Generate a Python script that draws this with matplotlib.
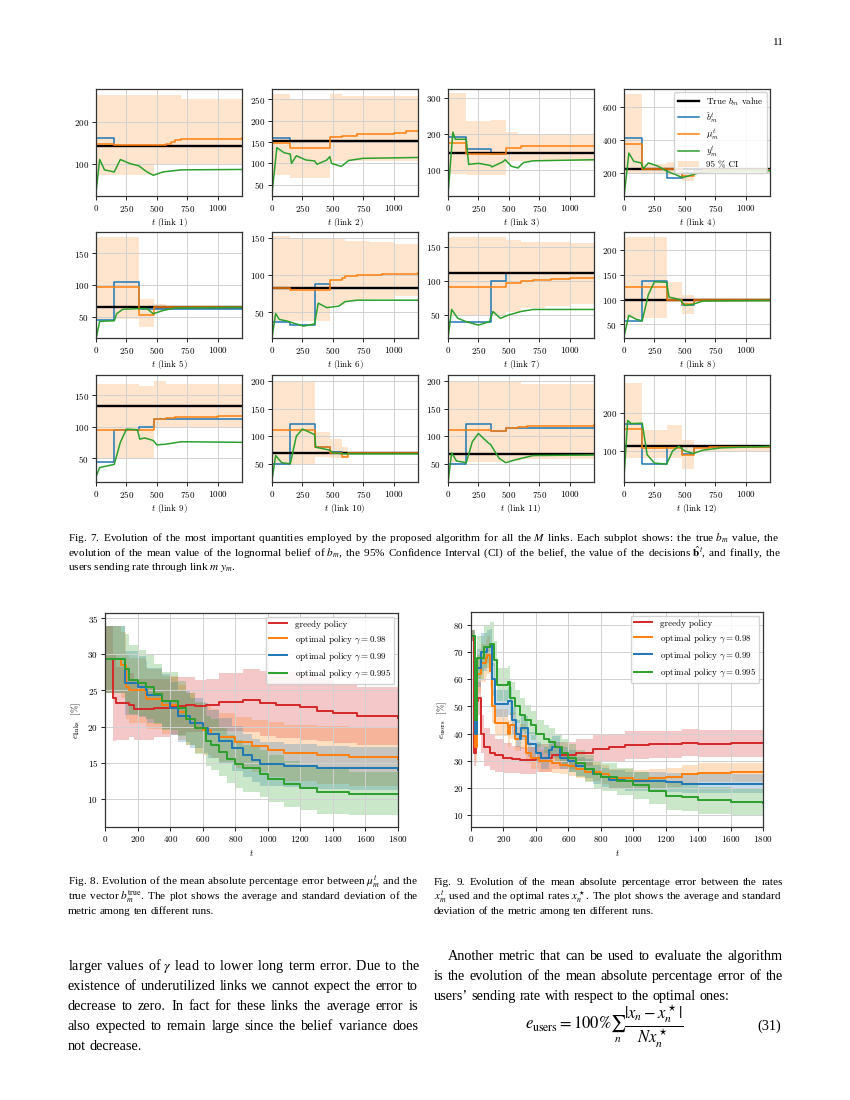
import re
import numpy as np
import matplotlib.pyplot as plt
from matplotlib.lines import Line2D
from matplotlib.patches import Patch

plt.rcParams.update({
    'font.family': 'serif',
    'font.serif': ['cmr10'],
    'mathtext.fontset': 'cm',
    'axes.formatter.use_mathtext': True,
    'axes.unicode_minus': False,
    'font.size': 6.5,
})

# ---------------- data: 12 links (Fig. 7) ----------------
true_b = [142, 152, 147, 220, 65, 82, 112, 99, 133, 70, 68, 112]

bhat_t = [[0, 150, 1200], [0, 150, 1200], [0, 150, 350, 475, 1200],
          [0, 150, 350, 475, 575, 1200], [0, 150, 350, 1200], [0, 150, 350, 475, 1200],
          [0, 350, 475, 1200], [0, 150, 350, 475, 575, 1200], [0, 150, 350, 475, 1200],
          [0, 150, 350, 475, 575, 1200], [0, 150, 350, 475, 1200], [0, 150, 350, 475, 575, 1200]]
bhat_v = [[162, 143, 143], [160, 152, 152], [190, 157, 145, 147, 147],
          [410, 220, 170, 200, 215, 215], [45, 105, 63, 63], [37, 33, 88, 82, 82],
          [40, 100, 112, 112], [57, 137, 100, 88, 99, 99], [43, 95, 100, 112, 112],
          [50, 122, 80, 72, 70, 70], [50, 122, 110, 115, 115], [170, 65, 113, 93, 110, 110]]

mu_t = [[0, 150, 575, 620, 650, 700, 1200], [0, 150, 475, 575, 700, 850, 1000, 1100, 1200],
        [0, 150, 475, 600, 1200], [0, 150, 475, 575, 650, 1200], [0, 350, 475, 1200],
        [0, 150, 475, 575, 600, 700, 900, 1200], [0, 475, 600, 700, 850, 1000, 1200],
        [0, 350, 475, 575, 1200], [0, 475, 575, 650, 800, 1000, 1200],
        [0, 350, 475, 575, 625, 1200], [0, 350, 475, 575, 650, 800, 1200],
        [0, 150, 475, 575, 700, 1200]]
mu_v = [[148, 145, 148, 152, 158, 160, 162], [148, 137, 163, 165, 168, 170, 172, 175, 175],
        [175, 145, 162, 165, 165], [375, 220, 180, 205, 215, 215], [97, 53, 65, 65],
        [82, 80, 93, 96, 98, 100, 102, 103], [91, 97, 100, 102, 103, 104, 105],
        [125, 100, 90, 100, 100], [94, 112, 114, 115, 116, 117, 117],
        [112, 80, 70, 62, 70, 70], [112, 110, 115, 117, 118, 119, 120],
        [157, 108, 88, 108, 110, 112]]

y_t = [[0, 30, 70, 150, 200, 280, 350, 420, 470, 550, 700, 1200],
       [0, 40, 100, 150, 160, 200, 280, 350, 370, 450, 475, 490, 570, 630, 750, 1200],
       [0, 40, 60, 150, 170, 250, 350, 360, 450, 470, 520, 575, 620, 700, 1200],
       [0, 40, 80, 140, 160, 200, 280, 350, 420, 480, 550, 620, 750, 1200],
       [0, 30, 150, 170, 220, 350, 420, 470, 550, 650, 1200],
       [0, 30, 60, 120, 200, 260, 350, 380, 450, 550, 600, 700, 1200],
       [0, 30, 80, 150, 250, 340, 370, 430, 500, 600, 700, 1200],
       [0, 40, 100, 150, 200, 250, 350, 370, 460, 500, 560, 650, 1200],
       [0, 30, 150, 200, 250, 340, 360, 400, 470, 500, 570, 700, 1200],
       [0, 30, 80, 150, 200, 250, 350, 360, 470, 500, 600, 1200],
       [0, 30, 70, 150, 200, 250, 330, 350, 420, 475, 550, 700, 1200],
       [0, 30, 60, 150, 190, 250, 350, 400, 450, 500, 570, 650, 800, 1200]]
y_v = [[30, 110, 85, 80, 110, 100, 95, 80, 72, 80, 85, 86],
       [30, 137, 125, 122, 100, 118, 108, 106, 98, 108, 116, 100, 93, 107, 112, 114],
       [30, 205, 185, 185, 115, 118, 112, 108, 122, 128, 110, 105, 120, 125, 128],
       [50, 320, 270, 260, 225, 260, 240, 210, 190, 170, 185, 200, 210, 212],
       [15, 43, 44, 55, 62, 63, 63, 55, 60, 64, 65],
       [15, 48, 40, 38, 34, 31, 34, 62, 56, 58, 64, 66, 66],
       [15, 58, 45, 40, 35, 40, 55, 45, 50, 55, 58, 58],
       [25, 68, 60, 57, 110, 136, 135, 105, 100, 88, 90, 97, 98],
       [20, 35, 40, 75, 96, 95, 80, 82, 78, 71, 72, 76, 75],
       [20, 65, 52, 50, 100, 113, 103, 80, 75, 70, 68, 68],
       [15, 70, 55, 52, 90, 105, 88, 85, 60, 52, 57, 65, 66],
       [30, 180, 172, 173, 90, 68, 65, 100, 112, 100, 93, 102, 108, 112]]

ci_t = [[0, 475, 700, 1200], [0, 150, 475, 575, 1200], [0, 150, 350, 475, 575, 1200],
        [0, 150, 350, 475, 575, 1200], [0, 350, 475, 575, 1200],
        [0, 150, 475, 600, 800, 1000, 1200], [0, 475, 600, 800, 1000, 1200],
        [0, 350, 475, 575, 1200], [0, 350, 475, 575, 1200],
        [0, 350, 475, 575, 625, 1200], [0, 475, 600, 1200], [0, 150, 350, 475, 575, 1200]]
ci_lo = [[72, 100, 100, 100], [72, 67, 105, 105, 105], [88, 85, 85, 125, 125, 125],
         [200, 195, 185, 150, 200, 205], [47, 35, 60, 63, 63],
         [38, 38, 60, 65, 68, 71, 73], [50, 55, 60, 63, 66, 68],
         [62, 95, 70, 95, 96], [48, 48, 100, 100, 100],
         [50, 62, 60, 60, 68, 68], [53, 55, 58, 60], [80, 80, 80, 52, 100, 105]]
ci_hi = [[266, 266, 257, 257], [262, 250, 262, 258, 258], [315, 235, 240, 205, 200, 200],
         [680, 255, 265, 230, 228, 228], [175, 78, 70, 66, 66],
         [152, 150, 148, 146, 144, 142, 140], [165, 160, 158, 157, 156, 155],
         [227, 135, 110, 103, 102], [168, 165, 172, 167, 165],
         [200, 108, 95, 80, 72, 72], [200, 198, 195, 195], [280, 155, 168, 128, 115, 115]]

link_ylim = [(22, 280), (24, 274), (27, 325), (58, 711), (17, 183), (15, 158),
             (16, 172), (22, 237), (12, 182), (17, 211), (17, 211), (18, 300)]
link_yticks = [[100, 200], [50, 100, 150, 200, 250], [100, 200, 300], [200, 400, 600],
               [50, 100, 150], [50, 100, 150], [50, 100, 150], [50, 100, 150, 200],
               [50, 100, 150], [50, 100, 150, 200], [50, 100, 150, 200], [100, 200]]
link_xticks = [0, 250, 500, 750, 1000]

# ---------------- data: Fig. 8 (e_links) ----------------
labels = ['greedy policy', r'optimal policy $\gamma = 0.98$',
          r'optimal policy $\gamma = 0.99$', r'optimal policy $\gamma = 0.995$']
colors = ['#d62728', '#ff7f0e', '#1f77b4', '#2ca02c']

el_t = [[0, 50, 70, 150, 180, 300, 400, 500, 550, 620, 700, 850, 950, 1050, 1200, 1300, 1400, 1550, 1800],
        [0, 100, 130, 150, 250, 260, 350, 450, 500, 550, 600, 650, 700, 800, 900, 1000, 1100, 1300, 1500, 1800],
        [0, 125, 200, 250, 260, 350, 400, 450, 520, 600, 630, 700, 780, 850, 900, 950, 1100, 1300, 1500, 1800],
        [0, 125, 150, 200, 250, 300, 350, 450, 500, 550, 620, 650, 700, 750, 800, 850, 950, 1000, 1100, 1200, 1300, 1500, 1800]]
el_m = [[29.3, 24.0, 23.2, 23.0, 22.4, 22.6, 22.8, 23.0, 22.8, 23.0, 23.4, 23.6, 23.2, 23.0, 22.7, 22.2, 21.8, 21.4, 21.2],
        [29.3, 28.5, 25.5, 25.0, 24.0, 23.8, 23.0, 22.0, 21.0, 19.8, 19.5, 19.0, 18.5, 17.8, 17.3, 16.8, 16.3, 16.1, 15.8, 15.5],
        [29.3, 26.0, 25.5, 25.0, 24.3, 23.5, 22.5, 21.5, 20.5, 19.8, 19.0, 18.0, 17.0, 16.0, 15.3, 14.8, 14.6, 14.3, 14.2, 14.0],
        [29.3, 28.0, 26.5, 26.0, 25.5, 24.5, 23.5, 22.5, 21.0, 19.8, 18.0, 17.5, 16.5, 15.5, 14.8, 14.2, 13.5, 12.8, 12.0, 11.5, 11.0, 10.7, 10.6]]
el_s = [[4.6, 6.0, 5.0, 4.4, 4.2, 4.0, 4.0, 3.8, 3.6, 3.6, 4.0, 4.4, 4.5, 4.6, 4.5, 4.2, 4.1, 4.0, 4.0],
        [4.6, 4.6, 4.5, 4.5, 4.2, 4.2, 4.0, 3.8, 3.6, 3.5, 3.4, 3.4, 3.4, 3.5, 3.6, 3.8, 3.9, 4.0, 4.0, 4.0],
        [4.6, 4.4, 4.2, 4.0, 3.8, 3.8, 3.7, 3.6, 3.5, 3.4, 3.3, 3.2, 3.1, 3.0, 3.0, 3.0, 3.0, 3.0, 3.0, 3.0],
        [4.6, 4.8, 4.8, 4.6, 4.4, 4.2, 4.0, 3.8, 3.6, 3.6, 3.5, 3.5, 3.4, 3.3, 3.3, 3.3, 3.3, 3.3, 3.2, 3.1, 3.1, 3.0, 3.0]]

# ---------------- data: Fig. 9 (e_users) ----------------
eu_t = [[0, 20, 30, 45, 60, 80, 120, 150, 200, 250, 300, 400, 500, 550, 650, 750, 850, 950, 1100, 1200, 1300, 1400, 1600, 1800],
        [0, 25, 40, 60, 90, 100, 115, 130, 150, 200, 230, 240, 270, 300, 340, 370, 420, 500, 550, 600,
         650, 700, 800, 850, 1000, 1100, 1200, 1300, 1400, 1600, 1800],
        [0, 25, 40, 60, 100, 120, 130, 150, 180, 230, 250, 280, 300, 310, 350, 400, 430, 480, 500, 550,
         600, 650, 700, 750, 800, 850, 950, 1100, 1200, 1300, 1500, 1800],
        [0, 25, 40, 80, 120, 140, 160, 200, 230, 240, 270, 300, 330, 370, 400, 450, 480, 520, 560, 600,
         650, 700, 760, 800, 900, 1000, 1100, 1200, 1300, 1400, 1600, 1800]]
eu_m = [[76, 33, 52, 53, 40, 35, 33, 32, 31, 30.5, 30.2, 31, 32, 32, 33, 34.5, 35, 35.8, 36, 36, 36.6, 36.3, 36.5, 36.7],
        [76, 35, 62, 66, 68, 69, 63, 50, 44, 44, 40, 43, 38, 39, 33, 31, 30, 29, 28.5, 28,
         27, 26, 25, 23.5, 23, 23.5, 24, 25, 25.5, 25.8, 26],
        [76, 40, 64, 70, 72, 72.5, 60, 51, 51, 52, 45, 40, 38, 42, 36, 33, 31, 34, 35, 31,
         30, 28, 27, 25, 24, 23, 22.5, 22.5, 22, 21.5, 21.5, 21.3],
        [76, 45, 68, 72, 73, 67, 58, 58, 59, 53, 50, 47, 45, 43, 40, 38, 37, 35, 33, 31,
         29, 27, 25, 24, 22.5, 21, 19, 17, 16.5, 15.5, 14.8, 14.5]]
eu_s = [[2, 5, 6, 6, 7, 7, 6.5, 6, 5.5, 5, 5, 5, 5, 5, 5, 5, 5, 5, 5, 5, 5, 5, 5, 5],
        [2, 6, 7, 7, 7, 7, 6, 6, 5, 5, 5, 5, 4.5, 4.5, 4, 4, 4, 3.5, 3.5, 3.5,
         3.5, 3.5, 3.5, 3.5, 3.5, 3.5, 3.5, 3.5, 3.5, 3.5, 3.5],
        [2, 6, 7, 7, 6, 6, 6, 5, 5, 5, 5, 5, 4.5, 4.5, 4.5, 4, 4, 4, 4, 4,
         4, 3.5, 3.5, 3.5, 3.5, 3.5, 3.5, 3.5, 3.5, 3.5, 3.5, 3.5],
        [2, 6, 8, 8, 8, 7, 6, 6, 6, 6, 6, 6, 5.5, 5.5, 5, 5, 5, 5, 5, 5,
         5, 5, 5, 5, 5, 5, 5, 5, 5, 5, 5, 5]]

# ---------------- figure ----------------
W, H = 850, 1100
fig = plt.figure(figsize=(8.5, 11), dpi=100)
renderer = fig.canvas.get_renderer()


def px_axes(x0, y0, x1, y1):
    return fig.add_axes([x0 / W, 1 - y1 / H, (x1 - x0) / W, (y1 - y0) / H])


def style(ax):
    ax.grid(True, color='0.82', lw=0.7)
    for sp in ax.spines.values():
        sp.set_linewidth(0.9)
        sp.set_color('#333333')
    ax.tick_params(labelsize=6.5, length=3, width=0.6, pad=2)


col_x = [96, 272, 448, 624]
row_y = [(89, 196), (232, 338), (375, 482)]
orange_ci = '#ff7f0e'

for k in range(12):
    r, c = divmod(k, 4)
    ax = px_axes(col_x[c], row_y[r][0], col_x[c] + 146, row_y[r][1])
    ax.fill_between(ci_t[k], ci_lo[k], ci_hi[k], step='post', color=orange_ci, alpha=0.2, lw=0)
    ax.plot(bhat_t[k], bhat_v[k], drawstyle='steps-post', color='#1f77b4', lw=1.1)
    ax.axhline(true_b[k], color='black', lw=1.7)
    ax.plot(mu_t[k], mu_v[k], drawstyle='steps-post', color='#ff7f0e', lw=1.1)
    ax.plot(y_t[k], y_v[k], color='#2ca02c', lw=1.1)
    ax.set_xlim(0, 1200)
    ax.set_ylim(*link_ylim[k])
    ax.set_xticks(link_xticks)
    ax.set_yticks(link_yticks[k])
    ax.set_xlabel(r'$t$ (link %d)' % (k + 1), fontsize=6.5, labelpad=1.5)
    style(ax)
    if k == 3:
        handles = [Line2D([], [], color='black', lw=1.7),
                   Line2D([], [], color='#1f77b4', lw=1.1),
                   Line2D([], [], color='#ff7f0e', lw=1.1),
                   Line2D([], [], color='#2ca02c', lw=1.1),
                   Patch(facecolor=orange_ci, alpha=0.2)]
        ax.legend(handles, [r'True $b_m$ value', r'$\hat{b}^t_m$', r'$\mu^t_m$', r'$y^t_m$', '95 % CI'],
                  loc='upper right', fontsize=6.5, framealpha=0.85, borderaxespad=0.3,
                  labelspacing=0.25, handlelength=2.3)


def error_plot(box, ts, ms, ss, ylim, yticks, ylabel):
    ax = px_axes(*box)
    for t, m, s, col, lab in zip(ts, ms, ss, colors, labels):
        m = np.array(m)
        s = np.array(s)
        ax.fill_between(t, m - s, m + s, step='post', color=col, alpha=0.25, lw=0)
        ax.plot(t, m, drawstyle='steps-post', color=col, lw=1.4, label=lab)
    ax.set_xlim(0, 1800)
    ax.set_ylim(*ylim)
    ax.set_xticks(range(0, 1801, 200))
    ax.set_yticks(yticks)
    ax.set_xlabel(r'$t$', fontsize=6.5, labelpad=3)
    ax.set_ylabel(ylabel, fontsize=6.5, labelpad=3)
    ax.legend(loc='upper right', fontsize=6.5, framealpha=0.85, borderaxespad=0.4)
    style(ax)
    return ax


error_plot((105, 613, 398, 827), el_t, el_m, el_s, (6.1, 35.7), range(10, 36, 5),
           r'$e_{\rm links}$  [%]')
error_plot((471, 612, 763, 827), eu_t, eu_m, eu_s, (5.6, 84.8), range(10, 81, 10),
           r'$e_{\rm users}$  [%]')

# ---------------- page text ----------------
cap = dict(family='Liberation Serif', math_fontfamily='stix', fontsize=8.1, va='baseline')
body = dict(family='Liberation Serif', math_fontfamily='stix', fontsize=10.3, va='baseline')


def put(x, y, s, **kw):
    return fig.text(x / W, 1 - y / H, s, **kw)


def width_of(s, kw):
    t = fig.text(0, 0, s, **kw)
    w = t.get_window_extent(renderer).width
    t.remove()
    return w


def chunks(line):
    # words, keeping each math piece glued to a plain word next to it
    toks = re.findall(r'(?:\$[^$]*\$|[^\s$])+', line)
    groups, glue_next = [], False
    for t in toks:
        if '$' in t:
            if groups and not glue_next:
                groups[-1] += ' ' + t
            else:
                groups.append(t)
                glue_next = True
        elif glue_next and groups:
            groups[-1] += ' ' + t
            glue_next = False
        else:
            groups.append(t)
    return groups


def put_line(x0, x1, y, line, justify=True, **kw):
    words = chunks(line)
    widths = [width_of(w, kw) for w in words]
    if justify and len(words) > 1:
        gap = (x1 - x0 - sum(widths)) / (len(words) - 1)
    else:
        gap = width_of('a a', kw) - width_of('aa', kw)
    if '$' in line:
        # lines with math stay one text (keeps one baseline), spread with \hspace
        unit = (width_of(r'a$\hspace{10}$a', kw) - width_of(r'a$\hspace{0}$a', kw)) / 10
        put(x0, y, (r'$\hspace{%.3f}$' % (gap / unit)).join(words), **kw)
        return
    x = x0
    for w, wd in zip(words, widths):
        put(x, y, w, **kw)
        x += wd + gap


put(783, 45, '11', ha='right', **cap)

fig7 = [r'Fig. 7.  Evolution of the most important quantities employed by the proposed algorithm for all the $M$ links. Each subplot shows: the true $b_m$ value, the',
        r'evolution of the mean value of the lognormal belief of $b_m$, the 95% Confidence Interval (CI) of the belief, the value of the decisions $\hat{\mathbf{b}}^t$, and finally, the',
        r'users sending rate through link $m$ $y_m$.']
for i, line in enumerate(fig7):
    put_line(68, 783, 541 + 14.5 * i, line, justify=i < 2, **cap)

fig8 = [r'Fig. 8.  Evolution of the mean absolute percentage error between $\mu^t_m$ and the',
        r'true vector $b^{\mathrm{true}}_m$. The plot shows the average and standard deviation of the',
        r'metric among ten different runs.']
for i, line in enumerate(fig8):
    put_line(68, 418, 885 + 14.5 * i, line, justify=i < 2, **cap)

fig9 = [r'Fig. 9.  Evolution of the mean absolute percentage error between the rates',
        r'$x^t_m$ used and the optimal rates $x^\star_n$. The plot shows the average and standard',
        r'deviation of the metric among ten different runs.']
for i, line in enumerate(fig9):
    put_line(434, 783, 885 + 14.5 * i, line, justify=i < 2, **cap)

left_body = [r'larger values of $\gamma$ lead to lower long term error. Due to the',
             'existence of underutilized links we cannot expect the error to',
             'decrease to zero. In fact for these links the average error is',
             'also expected to remain large since the belief variance does',
             'not decrease.']
for i, line in enumerate(left_body):
    put_line(68, 418, 970 + 20 * i, line, justify=i < 4, **body)

right_body = ['Another metric that can be used to evaluate the algorithm',
              'is the evolution of the mean absolute percentage error of the',
              'users\u2019 sending rate with respect to the optimal ones:']
put_line(448, 783, 960, right_body[0], **body)
put_line(434, 783, 980, right_body[1], **body)
put_line(434, 783, 1000, right_body[2], justify=False, **body)
eq = dict(body, fontsize=12)
put(604, 1030, r'$e_{\rm users} = 100\%\sum_n \dfrac{|x_n - x^\star_n|}{N x^\star_n}$',
    ha='center', **eq)
put(781, 1030, '(31)', ha='right', **body)

fig.savefig('out.png', dpi=100)
